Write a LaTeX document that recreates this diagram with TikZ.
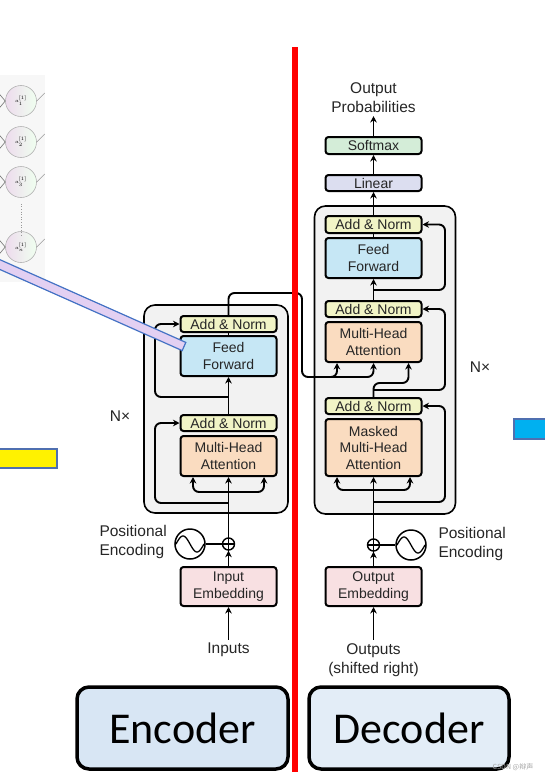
\documentclass[tikz,border=0pt]{standalone}
\usepackage{fontspec}
\setmainfont{Liberation Sans}
\newfontfamily\calfont{Carlito}
\newfontfamily\cjkfont{Noto Sans CJK SC}
\usetikzlibrary{arrows.meta}
\definecolor{anC}{HTML}{F1F4C6}
\definecolor{ffC}{HTML}{C6E7F5}
\definecolor{mhaC}{HTML}{FADCC0}
\definecolor{embC}{HTML}{F8E0E2}
\definecolor{smC}{HTML}{D4EDD8}
\definecolor{linC}{HTML}{DCDEF0}
\definecolor{blkC}{HTML}{F2F2F2}
\definecolor{bandC}{HTML}{E3D0F2}
\definecolor{bandB}{HTML}{4472C4}
\definecolor{rectB}{HTML}{4F6FB0}
\definecolor{cyanC}{HTML}{00B0F0}
\definecolor{bigA}{HTML}{D8E6F4}
\definecolor{bigB}{HTML}{E3EDF7}
\begin{document}
\begin{tikzpicture}[x=1pt,y=-1pt,
 lbl/.style={font=\fontsize{15.5}{19}\selectfont, align=center, text=black!85},
 blk/.style={draw, line width=2pt, rounded corners=3pt, minimum width=96pt, inner sep=0pt, align=center, font=\fontsize{14}{16.5}\selectfont, text=black!85},
 ln/.style={line width=1.9pt},
 arr/.style={line width=1.9pt, -{Stealth[length=6.5pt,width=6.5pt]}},
 rarr/.style={arr, rounded corners=6pt},
 rln/.style={ln, rounded corners=6pt},
 stack/.style={draw, line width=1.6pt, rounded corners=11pt, fill=blkC, inner sep=0pt},
 neuron/.style={circle, draw=black!30, line width=0.6pt, minimum size=31pt, inner sep=0pt, left color=violet!14, right color=green!6, font=\fontsize{4}{5}\selectfont},
 big/.style={draw, line width=3.5pt, rounded corners=12pt, font=\calfont\fontsize{44}{50}\selectfont, inner sep=0pt},
 pe/.style={circle, draw, line width=1.5pt, minimum size=30pt, inner sep=0pt},
 plus/.style={circle, draw, line width=1.4pt, minimum size=12pt, inner sep=0pt}
]
\useasboundingbox (0,0) rectangle (545,779);
\fill[white] (0,0) rectangle (545,779);

% neuron panel
\fill[black!3] (0,75) rectangle (45,282);
\node[neuron] (n1) at (21,101) {$a^{[1]}_1$};
\node[neuron] (n2) at (21,142) {$a^{[1]}_2$};
\node[neuron] (n3) at (21,182) {$a^{[1]}_3$};
\node[neuron] (n4) at (21,247) {$a^{[1]}_n$};
\draw[black!40, dotted, line width=0.6pt] (n3.south) ++(0,6) -- ([yshift=-6pt]n4.north);
\foreach \n in {n1,n2,n3,n4}{
  \draw[black!40, line width=0.5pt] (\n.east) -- ++(8,-8);
  \draw[black!55, line width=0.6pt] ([shift={(-10,-12)}]\n.west) -- (\n.west);
  \draw[black!55, line width=0.6pt] ([shift={(-10,12)}]\n.west) -- (\n.west);
}

% stacks
\node[stack, minimum width=144pt, minimum height=208pt] (encStack) at (216,409) {};
\node[stack, minimum width=141pt, minimum height=308pt] (decStack) at (385,360) {};

% encoder blocks
\node[blk, fill=anC, minimum height=16pt] (enAN2) at (228.5,324) {Add \& Norm};
\node[blk, fill=ffC, minimum height=40pt] (enFF) at (228.5,356) {Feed\\Forward};
\node[blk, fill=anC, minimum height=16pt] (enAN1) at (228.5,423) {Add \& Norm};
\node[blk, fill=mhaC, minimum height=40pt] (enMHA) at (228.5,456) {Multi-Head\\Attention};
\node[blk, fill=embC, minimum height=39pt] (inEmb) at (228.5,586.5) {Input\\Embedding};
\node[lbl] (inputs) at (228.5,650) {Inputs};
\node[lbl] (nxE) at (120,416) {N×};
\node[pe] (peE) at (190,544) {};
\draw[line width=1.3pt] plot[variable=\t, domain=-1:1, samples=40, smooth] ({190+14*\t},{544+8*sin(180*\t)});
\node[plus] (plE) at (228.5,544) {};
\draw[line width=1.2pt] (plE.north) -- (plE.south) (plE.west) -- (plE.east);
\node[lbl, align=left, anchor=west] (peLblE) at (96,542) {Positional\\Encoding};

% decoder blocks
\node[lbl] (outprob) at (373.5,97.5) {Output\\Probabilities};
\node[blk, fill=smC, minimum height=17pt] (softmax) at (373.5,145.5) {Softmax};
\node[blk, fill=linC, minimum height=16pt] (linear) at (373.5,183) {Linear};
\node[blk, fill=anC, minimum height=17pt] (deAN3) at (373.5,224.5) {Add \& Norm};
\node[blk, fill=ffC, minimum height=40pt] (deFF) at (373.5,258) {Feed\\Forward};
\node[blk, fill=anC, minimum height=16pt] (deAN2) at (373.5,309) {Add \& Norm};
\node[blk, fill=mhaC, minimum height=40pt] (deMHA) at (373.5,342) {Multi-Head\\Attention};
\node[blk, fill=anC, minimum height=16pt] (deAN1) at (373.5,406) {Add \& Norm};
\node[blk, fill=mhaC, minimum height=57pt] (deMMHA) at (373.5,447.5) {Masked\\Multi-Head\\Attention};
\node[blk, fill=embC, minimum height=39pt] (outEmb) at (373.5,586.5) {Output\\Embedding};
\node[lbl] (outputs) at (373.5,660) {Outputs\\(shifted right)};
\node[lbl] (nxD) at (480,367) {N×};
\node[plus] (plD) at (373.5,545) {};
\draw[line width=1.2pt] (plD.north) -- (plD.south) (plD.west) -- (plD.east);
\node[pe] (peD) at (411,545) {};
\draw[line width=1.3pt] plot[variable=\t, domain=-1:1, samples=40, smooth] ({411+14*\t},{545+8*sin(180*\t)});
\node[lbl, align=left, anchor=west] (peLblD) at (435,544) {Positional\\Encoding};

% encoder connectors
\draw[arr] (inputs.north) -- (inEmb.south);
\draw[arr] (inEmb.north) -- (plE.south);
\draw[ln] (peE.east) -- (plE.west);
\draw[arr] (plE.north) -- (enMHA.south);
\draw[rarr] (228.5,492) -| ([xshift=-35.5pt]enMHA.south);
\draw[rarr] (228.5,492) -| ([xshift=35.5pt]enMHA.south);
\draw[rarr] (228.5,503) -| (155,423) -- (enAN1.west);
\draw[arr] (enAN1.north) -- (enFF.south);
\draw[rarr] (228.5,397) -| (155,324) -- (enAN2.west);
\draw[ln] (enFF.north) -- (enAN2.south);
\draw[rarr] (enAN2.north) |- (302,293) |- (337,377) -- ([xshift=-36.5pt]deMHA.south);
\draw[rarr] (330,377) -| (deMHA.south);

% decoder connectors
\draw[arr] (outputs.north) -- (outEmb.south);
\draw[arr] (outEmb.north) -- (plD.south);
\draw[ln] (plD.east) -- (peD.west);
\draw[arr] (plD.north) -- (deMMHA.south);
\draw[rarr] (373.5,490) -| ([xshift=-36.5pt]deMMHA.south);
\draw[rarr] (373.5,490) -| ([xshift=36.5pt]deMMHA.south);
\draw[rarr] (373.5,502) -| (445,406) -- (deAN1.east);
\draw[rarr] (deAN1.north) -- (373.5,383) -| ([xshift=35pt]deMHA.south);
\draw[rarr] (373.5,390) -| (445,309) -- (deAN2.east);
\draw[arr] (deAN2.north) -- (deFF.south);
\draw[rarr] (373.5,290) -| (445,224.5) -- (deAN3.east);
\draw[ln] (deFF.north) -- (deAN3.south);
\draw[arr] (deAN3.north) -- (linear.south);
\draw[arr] (linear.north) -- (softmax.south);
\draw[arr] (softmax.north) -- (outprob.south);

% pointer band from FF to neuron
\draw[draw=bandB, fill=bandC, line width=1.2pt, line join=miter] (-3.2,258.3) -- (185.8,342.4) -- (182.2,350.6) -- (-6.8,266.5) -- cycle;

% side rectangles
\node[draw=rectB, line width=1.3pt, fill=yellow, minimum width=60pt, minimum height=19pt, inner sep=0pt] (yel) at (27,458.5) {};
\node[draw=rectB, line width=1.3pt, fill=cyanC, minimum width=34pt, minimum height=20pt, inner sep=0pt] (cyanBox) at (531,429) {};

% red divider
\fill[red] (291.5,47) rectangle (297.5,772);

% big labels
\node[big, fill=bigA, minimum width=211pt, minimum height=82pt] (encBig) at (182.5,728) {Encoder};
\node[big, fill=bigB, minimum width=200pt, minimum height=82pt] (decBig) at (409,728) {Decoder};
\node[font=\cjkfont\fontsize{7}{8}\selectfont, text=black!35] (wm) at (513,767) {CSDN @辩声};
\end{tikzpicture}
\end{document}
